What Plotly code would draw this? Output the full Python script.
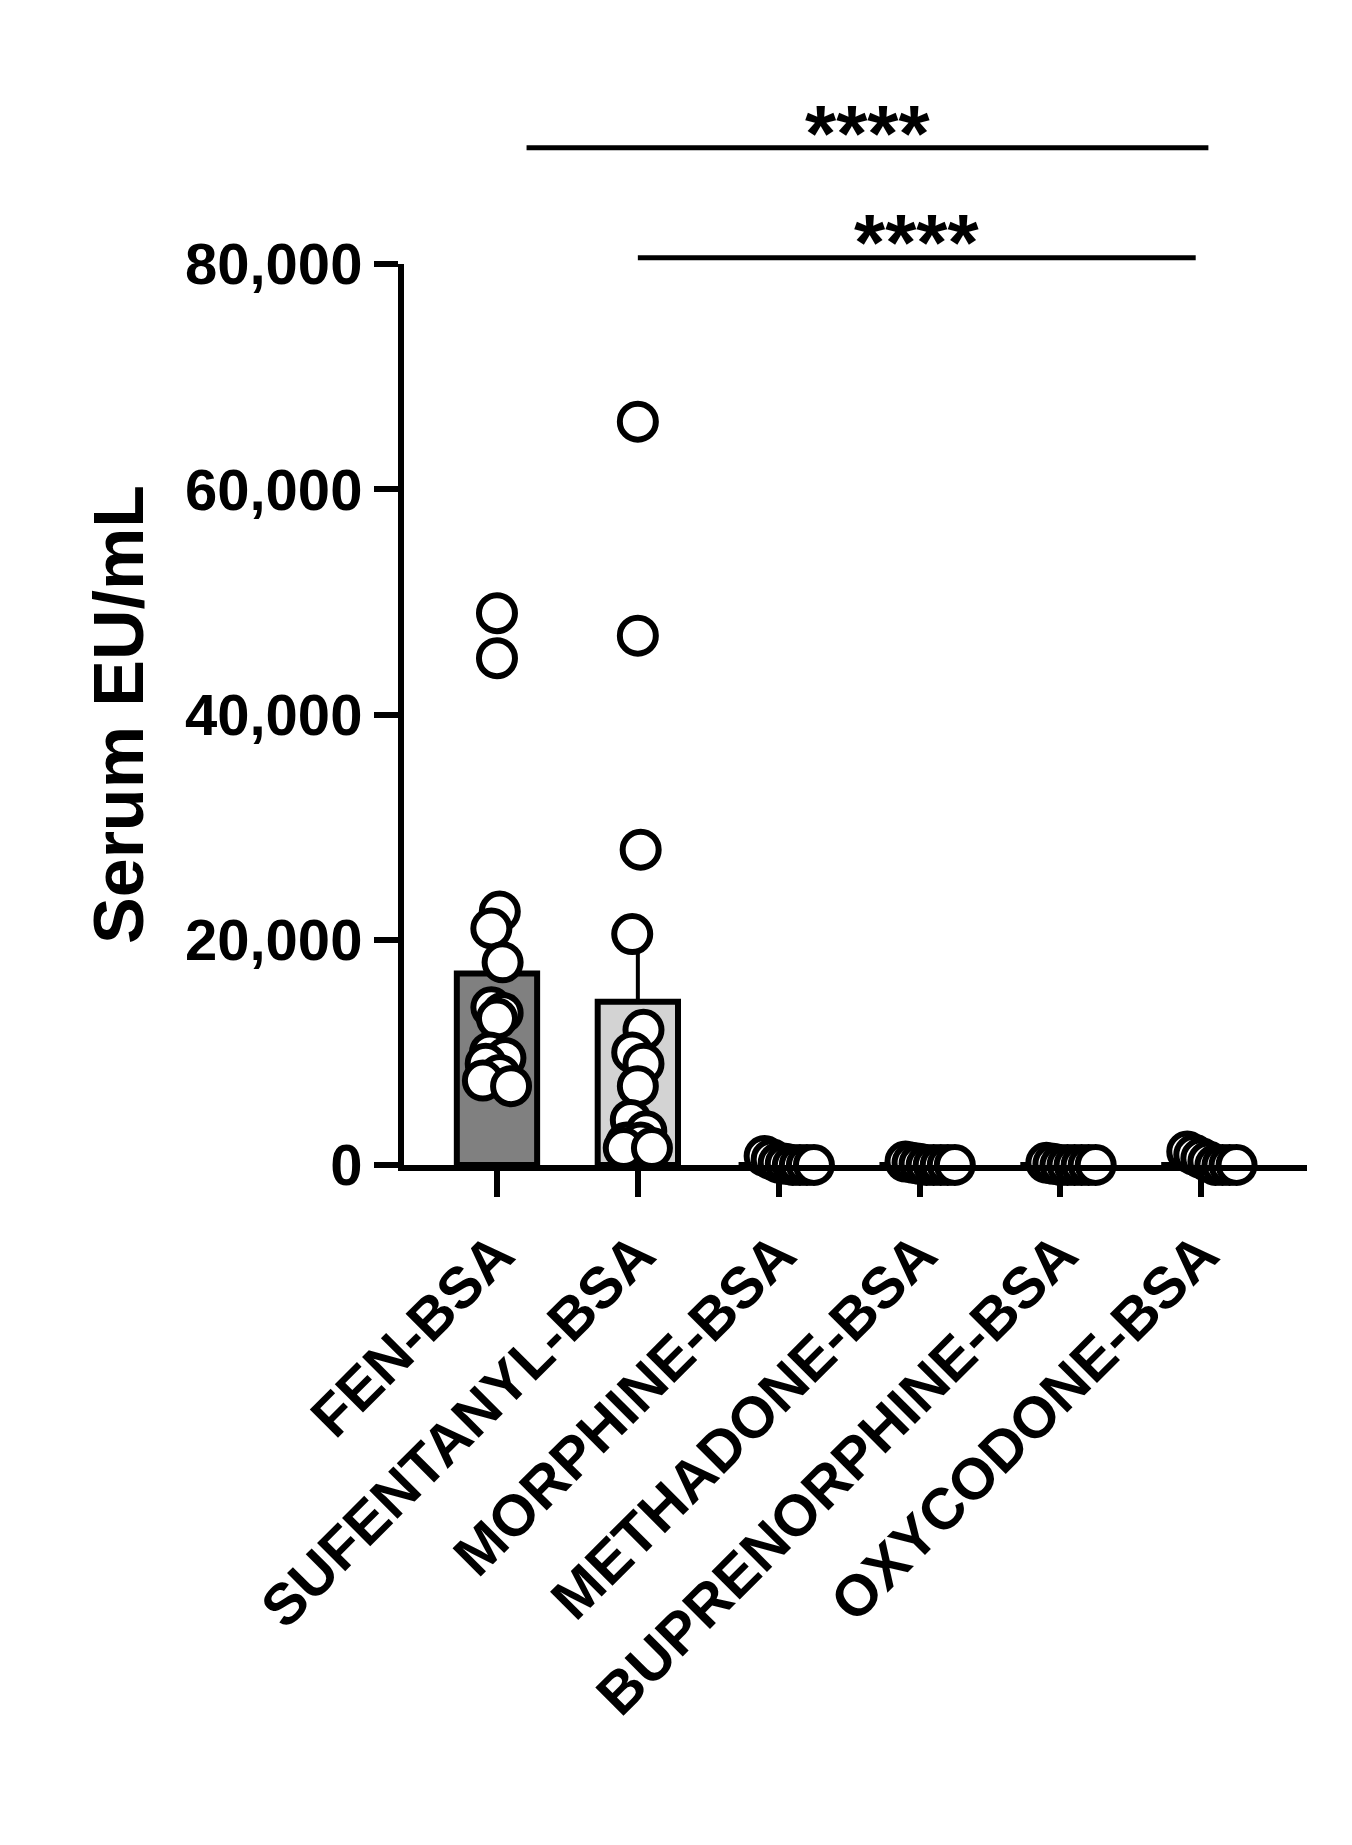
import plotly.graph_objects as go

categories = ["FEN-BSA", "SUFENTANYL-BSA", "MORPHINE-BSA", "METHADONE-BSA",
              "BUPRENORPHINE-BSA", "OXYCODONE-BSA"]
means = [17000, 14500, 0, 0, 0, 0]
sem = [3500, 4700, 0, 0, 0, 0]
bar_colors = ["#808080", "#d3d3d3", "white", "white", "white", "white"]

fen = [49000, 45000, 22500, 21000, 18000, 14000, 13500, 13000, 10000, 9500, 9000, 8000, 7500, 7000]
suf = [66000, 47000, 28000, 20500, 12000, 10000, 9000, 7000, 4000, 3000, 2000, 2000, 1500, 1500]
mor = [800, 500, 200, 100, 0, 0, 0, 0]
met = [300, 200, 100, 0, 0, 0, 0, 0]
bup = [200, 100, 0, 0, 0, 0, 0, 0]
oxy = [1200, 900, 600, 300, 0, 0, 0, 0]
points = [fen, suf, mor, met, bup, oxy]
jitter = [0, 0, 0.02, -0.04, 0.04, -0.04, 0.04, 0, -0.05, 0.06, -0.08, 0.02, -0.1, 0.1]
low_jitter = [-0.1, -0.05, 0, 0.05, 0.1, 0.15, 0.2, 0.25]

font = "Liberation Sans, Arial, sans-serif"
fig = go.Figure()
fig.add_bar(x=list(range(6)), y=means, width=0.57,
            marker=dict(color=bar_colors, line=dict(color="black", width=6)),
            error_y=dict(type="data", array=sem, arrayminus=[0]*6, symmetric=False,
                         color="black", thickness=4, width=0))
for i, vals in enumerate(points):
    jit = jitter if i < 2 else low_jitter
    xs = [i + jit[j % len(jit)] for j in range(len(vals))]
    fig.add_scatter(x=xs, y=vals, mode="markers", cliponaxis=False,
                    marker=dict(size=36, color="white", line=dict(color="black", width=6)))

# significance brackets (paper coords above the plot area)
for x0, x1, yl, ys in [(0.21, 5.05, 1.129, 1.196), (1.0, 4.96, 1.007, 1.075)]:
    fig.add_shape(type="line", x0=x0, x1=x1, xref="x", yref="paper", y0=yl, y1=yl,
                  line=dict(color="black", width=5))
    fig.add_annotation(x=(x0 + x1) / 2, y=ys, xref="x", yref="paper", text="<b>****</b>",
                       showarrow=False, font=dict(size=80, family=font, color="black"))

fig.update_layout(
    width=1352, height=1845, showlegend=False, plot_bgcolor="white", paper_bgcolor="white",
    margin=dict(l=396, r=53, t=256, b=688),
    font=dict(family=font, color="black", size=58),
)
fig.update_xaxes(range=[-0.66, 5.75], tickvals=list(range(6)),
                 ticktext=["<b>%s</b>" % c for c in categories], tickangle=-45,
                 showline=True, linecolor="black", linewidth=6, ticks="outside",
                 ticklen=26, tickwidth=6, tickcolor="black", showgrid=False, zeroline=False)
fig.update_yaxes(range=[0, 80000], tickvals=[0, 20000, 40000, 60000, 80000],
                 ticktext=["<b>0</b>", "<b>20,000</b>", "<b>40,000</b>", "<b>60,000</b>", "<b>80,000</b>"],
                 showline=True, linecolor="black", linewidth=6, ticks="outside",
                 ticklen=24, tickwidth=6, tickcolor="black", showgrid=False, zeroline=False,
                 title=dict(text="<b>Serum EU/mL</b>", standoff=20))
fig.write_html("out.html")
